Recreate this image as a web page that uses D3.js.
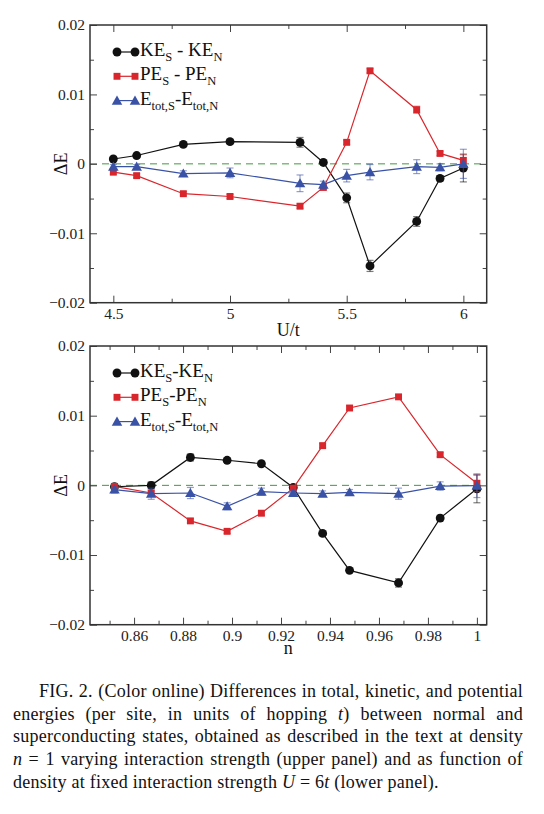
<!DOCTYPE html>
<html lang="en">
<head>
<meta charset="UTF-8" />
<title>FIG. 2</title>
<script src="https://cdn.jsdelivr.net/npm/d3@7"></script>
<style>
  body { margin: 0; background: #fff; }
  #chart { position: absolute; left: 0; top: 0; }
  #caption .ln { text-align: justify; text-align-last: justify; white-space: nowrap; }
  #caption .ln.last { text-align-last: left; }
</style>
</head>
<body>
<svg id="chart" width="544" height="814"></svg>
<div id="caption" style="position:absolute; left:13px; top:680px; width:510px; font-family:'Liberation Serif', 'Times New Roman', serif; font-size:18px; letter-spacing:0.25px; line-height:22.7px; color:#111;">
  <div class="ln" style="padding-left:26px">FIG. 2. (Color online) Differences in total, kinetic, and potential</div>
  <div class="ln">energies (per site, in units of hopping <i>t</i>) between normal and</div>
  <div class="ln">superconducting states, obtained as described in the text at density</div>
  <div class="ln"><i>n</i> = 1 varying interaction strength (upper panel) and as function of</div>
  <div class="ln last">density at fixed interaction strength <i>U</i> = 6<i>t</i> (lower panel).</div>
</div>
<script>
// ---- data, upper panel (vs U/t) ----
const uVals = [4.5, 4.6, 4.8, 5.0, 5.3, 5.4, 5.5, 5.6, 5.8, 5.9, 6.0];
const keU = [0.0007, 0.0012, 0.0028, 0.0032, 0.0031, 0.0002, -0.0049, -0.0147, -0.0083, -0.0021, -0.0006];
const keUErr = [0.0003, 0.0003, 0.0003, 0.0003, 0.0007, 0.0003, 0.0007, 0.0008, 0.0007, 0.0004, 0.002];
const peU = [-0.0012, -0.0017, -0.0043, -0.0047, -0.0061, -0.0034, 0.0031, 0.0134, 0.0078, 0.0015, 0.0005];
const peUErr = [0.0003, 0.0003, 0.0003, 0.0003, 0.0003, 0.0003, 0.0003, 0.0003, 0.0005, 0.0003, 0.0008];
const etU = [-0.0004, -0.0004, -0.0014, -0.0013, -0.0028, -0.003, -0.0017, -0.0012, -0.0004, -0.0005, 0.0];
const etUErr = [0.0003, 0.0003, 0.0004, 0.0007, 0.0012, 0.0005, 0.0009, 0.0011, 0.001, 0.0005, 0.0021];

// ---- data, lower panel (vs n) ----
const nVals = [0.852, 0.867, 0.883, 0.898, 0.912, 0.925, 0.937, 0.948, 0.968, 0.985, 1.0];
const keN = [-0.0002, 0.0, 0.004, 0.0036, 0.0031, -0.0003, -0.0069, -0.0122, -0.014, -0.0047, -0.0005];
const keNErr = [0.0003, 0.0005, 0.0005, 0.0003, 0.0003, 0.0003, 0.0003, 0.0003, 0.0006, 0.0004, 0.002];
const peN = [-0.00015, -0.0011, -0.0051, -0.0066, -0.004, -0.0004, 0.0057, 0.0111, 0.0127, 0.0044, 0.0003];
const peNErr = [0.0003, 0.0003, 0.0003, 0.0003, 0.0003, 0.0003, 0.0003, 0.0003, 0.0003, 0.0003, 0.0012];
const etN = [-0.0006, -0.0012, -0.0011, -0.003, -0.0009, -0.0011, -0.0012, -0.001, -0.0012, -0.0001, -0.00005];
const etNErr = [0.0005, 0.0008, 0.0008, 0.0005, 0.0005, 0.0003, 0.0004, 0.0004, 0.0008, 0.0006, 0.0017];

const legendUpper = [["KE", "S", " - KE", "N"], ["PE", "S", " - PE", "N"], ["E", "tot,S", "-E", "tot,N"]];
const legendLower = [["KE", "S", "-KE", "N"], ["PE", "S", "-PE", "N"], ["E", "tot,S", "-E", "tot,N"]];
const yTicks = [-0.02, -0.01, 0, 0.01, 0.02];

const colors = ["#111111", "#d9262c", "#3a52a6"];
const shapes = [d3.symbolCircle, d3.symbolSquare, d3.symbolTriangle];
const shapeSize = [62, 48, 48];

const svg = d3.select("#chart");
const serif = "'Liberation Serif', 'Times New Roman', serif";
const left = 90, right = 486.7;

function panel(top, bottom, xDomain, xMajor, xMinor, xFmt, xLabel, labelY, series, legend) {
  const x = d3.scaleLinear().domain(xDomain).range([left, right]);
  const y = d3.scaleLinear().domain([-0.02, 0.02]).range([bottom, top]);
  const g = svg.append("g");
  const yMinor = d3.range(-0.015, 0.02, 0.01);

  // zero line
  g.append("line")
    .attr("x1", left).attr("x2", right).attr("y1", y(0)).attr("y2", y(0))
    .attr("stroke", "#3f9a3c").attr("stroke-width", 1).attr("stroke-dasharray", "7,5");

  // axes with inward ticks on all four sides
  const ax = (gen, tx, ty, vals, size, fmt) => {
    const a = g.append("g").attr("transform", `translate(${tx},${ty})`)
      .call(gen.tickValues(vals).tickSizeInner(-size).tickSizeOuter(0).tickPadding(5).tickFormat(fmt));
    a.select(".domain").remove();
    a.selectAll("line").attr("stroke", "#444").attr("stroke-width", 1);
    a.selectAll("text").style("font-family", serif).style("font-size", "15.5px").attr("fill", "#222");
    return a;
  };
  const none = () => "";
  ax(d3.axisBottom(x), 0, bottom, xMajor, 7, xFmt);
  ax(d3.axisBottom(x), 0, bottom, xMinor, 4, none);
  ax(d3.axisTop(x), 0, top, xMajor, 7, none);
  ax(d3.axisTop(x), 0, top, xMinor, 4, none);
  ax(d3.axisLeft(y), left, 0, yTicks, 7, d => d === 0 ? "0" : d3.format(".2f")(d));
  ax(d3.axisLeft(y), left, 0, yMinor, 4, none);
  ax(d3.axisRight(y), right, 0, yTicks, 7, none);
  ax(d3.axisRight(y), right, 0, yMinor, 4, none);

  g.append("rect").attr("x", left).attr("y", top).attr("width", right - left).attr("height", bottom - top)
    .attr("fill", "none").attr("stroke", "#333").attr("stroke-width", 1.5);

  // series: error bars, line, markers
  const xs = series.x;
  series.sets.forEach((s, i) => {
    const pts = xs.map((xv, j) => ({ x: xv, y: s.v[j], e: s.e[j] }));
    const sg = g.append("g");
    sg.selectAll("g.err").data(pts).join("g").attr("class", "err")
      .attr("stroke", colors[i]).attr("stroke-opacity", 0.55).attr("stroke-width", 1.2)
      .each(function (d) {
        const e = d3.select(this), cx = x(d.x);
        e.append("line").attr("x1", cx).attr("x2", cx).attr("y1", y(d.y - d.e)).attr("y2", y(d.y + d.e));
        [d.y - d.e, d.y + d.e].forEach(v => e.append("line")
          .attr("x1", cx - 3.5).attr("x2", cx + 3.5).attr("y1", y(v)).attr("y2", y(v)));
      });
    sg.append("path").datum(pts)
      .attr("fill", "none").attr("stroke", colors[i]).attr("stroke-width", 1.2)
      .attr("d", d3.line().x(d => x(d.x)).y(d => y(d.y)));
    sg.selectAll("path.m").data(pts).join("path").attr("class", "m")
      .attr("transform", d => `translate(${x(d.x)},${y(d.y) + (i === 2 ? 1 : 0)})`)
      .attr("d", d3.symbol(shapes[i], shapeSize[i]))
      .attr("fill", colors[i]);
  });

  // legend
  legend.forEach((parts, i) => {
    const cy = top + 27 + i * 24.3;
    const lg = g.append("g");
    lg.append("line").attr("x1", 117).attr("x2", 135).attr("y1", cy).attr("y2", cy)
      .attr("stroke", colors[i]).attr("stroke-width", 1.2);
    [117, 135].forEach(mx => lg.append("path")
      .attr("transform", `translate(${mx},${cy + (i === 2 ? 1 : 0)})`)
      .attr("d", d3.symbol(shapes[i], shapeSize[i])).attr("fill", colors[i]));
    const t = lg.append("text").attr("x", 140).attr("y", cy + 4)
      .style("font-family", serif).style("font-size", "19px").attr("fill", "#111");
    t.append("tspan").text(parts[0]);
    t.append("tspan").attr("dy", 5).style("font-size", "12.5px").text(parts[1]);
    t.append("tspan").attr("dy", -5).text(parts[2]);
    t.append("tspan").attr("dy", 5).style("font-size", "12.5px").text(parts[3]);
  });

  // axis titles
  g.append("text").attr("transform", `translate(67,${y(0)}) rotate(-90)`)
    .attr("text-anchor", "middle").style("font-family", serif).style("font-size", "18px").attr("fill", "#111")
    .text("ΔE");
  g.append("text").attr("x", (left + right) / 2).attr("y", labelY)
    .attr("text-anchor", "middle").style("font-family", serif).style("font-size", "18px").attr("fill", "#111")
    .text(xLabel);
}

panel(25, 302.7, [4.4, 6.1], [4.5, 5, 5.5, 6], [4.75, 5.25, 5.75],
  d => d3.format("")(d), "U/t", 336,
  { x: uVals, sets: [{ v: keU, e: keUErr }, { v: peU, e: peUErr }, { v: etU, e: etUErr }] },
  legendUpper);

panel(346, 624.7, [0.842, 1.004], [0.86, 0.88, 0.9, 0.92, 0.94, 0.96, 0.98, 1],
  d3.range(0.85, 1.0, 0.02),
  d => d3.format("")(+d.toFixed(2)), "n", 654,
  { x: nVals, sets: [{ v: keN, e: keNErr }, { v: peN, e: peNErr }, { v: etN, e: etNErr }] },
  legendLower);
</script>
</body>
</html>
